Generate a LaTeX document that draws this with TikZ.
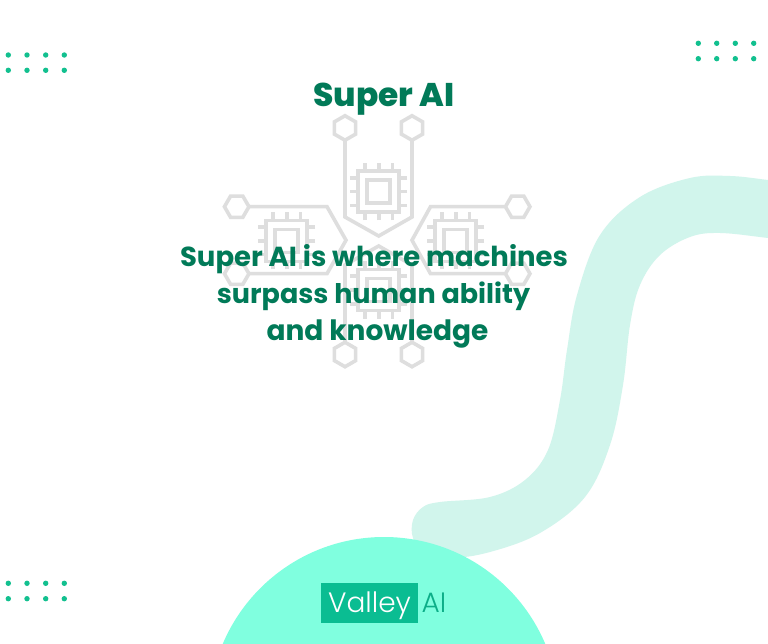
\documentclass[tikz,border=0pt]{standalone}
\usepackage{fontspec}
\usetikzlibrary{shapes.geometric}
\setmainfont{Poppins}
\newfontfamily\titlefont[UprightFont=* ExtraBold]{Poppins}
\newfontfamily\logofont[UprightFont=* Light]{Poppins}
\definecolor{headgreen}{HTML}{017A58}
\definecolor{dotgreen}{HTML}{12C08F}
\definecolor{swoosh}{HTML}{D1F5EC}
\definecolor{mint}{HTML}{80FFDF}
\definecolor{logogreen}{HTML}{0ABD92}
\definecolor{aigreen}{HTML}{0CAE88}
\definecolor{wire}{HTML}{DEDEDE}
\tikzset{
  x=1pt,y=-1pt,
  wireline/.style={draw=wire,line width=3.6pt,line join=miter},
  hexpoint/.style={regular polygon,regular polygon sides=6,shape border rotate=30,draw=wire,line width=3.6pt,minimum size=24.5pt,inner sep=0pt,outer sep=0pt},
  hexflat/.style={regular polygon,regular polygon sides=6,draw=wire,line width=3.6pt,minimum size=24.5pt,inner sep=0pt,outer sep=0pt},
  dotmark/.style={fill=dotgreen},
  headtext/.style={text=headgreen,font=\titlefont\fontsize{32.8}{32.8}\selectfont,anchor=base,inner sep=0pt},
  bodytext/.style={text=headgreen,font=\bfseries\fontsize{27.5}{27.5}\selectfont,anchor=base,inner sep=0pt},
  chip/.pic={
    \draw[wireline] (-20.5,-20.5) rectangle (20.5,20.5);
    \draw[wireline] (-11.5,-11.5) rectangle (11.5,11.5);
    \foreach \d in {-13.7,0,13.7}{
      \draw[wireline] (\d,-28.5) -- (\d,-20.5);
      \draw[wireline] (\d,28.5) -- (\d,20.5);
      \draw[wireline] (-28.5,\d) -- (-20.5,\d);
      \draw[wireline] (28.5,\d) -- (20.5,\d);
    }
  }
}
\begin{document}
\begin{tikzpicture}
\useasboundingbox (0,0) rectangle (768,644);
\clip (0,0) rectangle (768,644);
\fill[white] (0,0) rectangle (768,644);
% swoosh
\fill[swoosh] plot[smooth cycle,tension=0.6] coordinates {
  (440,502) (490,497) (525,480) (548,450) (560,400) (567,350) (577,295) (600,235)
  (640,197) (690,178) (730,176) (768,180) (800,184) (800,242) (768,238) (720,233) (690,237) (660,255)
  (640,285) (630,325) (623,385) (610,445) (585,497) (540,533) (490,552) (450,558) (425,552) (413,538) (413,520) (423,507)};
% circle
\fill[mint] (384,712) circle[radius=175pt];
% dots
\foreach \x in {8.3,27,45.7,64.3}{
  \foreach \y in {55,70.3,583.3,598.7}{\fill[dotmark] (\x,\y) circle[radius=2.7pt];}
}
\foreach \x in {698.3,716.7,735.3,753.7}{
  \foreach \y in {43.3,58.7}{\fill[dotmark] (\x,\y) circle[radius=2.7pt];}
}
% hexagons
\node[hexpoint] (hTL) at (345,128) {};
\node[hexpoint] (hTR) at (412,128) {};
\node[hexpoint] (hBL) at (345,354.5) {};
\node[hexpoint] (hBR) at (412,354.5) {};
\node[hexflat] (hLT) at (236.7,206.7) {};
\node[hexflat] (hLB) at (236.7,273.7) {};
\node[hexflat] (hRT) at (517.7,206.7) {};
\node[hexflat] (hRB) at (517.7,273.7) {};
% bend points
\coordinate (t1) at (345,217); \coordinate (t2) at (378.7,236); \coordinate (t3) at (412,217);
\coordinate (b1) at (345,265); \coordinate (b2) at (378.7,246); \coordinate (b3) at (412,265);
\coordinate (l1) at (327,206.7); \coordinate (l2) at (346,240.2); \coordinate (l3) at (327,273.7);
\coordinate (r1) at (430.5,206.7); \coordinate (r2) at (412,240.2); \coordinate (r3) at (430.5,273.7);
% traces
\draw[wireline] (hTL) -- (t1) -- (t2) -- (t3) -- (hTR);
\draw[wireline] (hBL) -- (b1) -- (b2) -- (b3) -- (hBR);
\draw[wireline] (hLT) -- (l1) -- (l2) -- (l3) -- (hLB);
\draw[wireline] (hRT) -- (r1) -- (r2) -- (r3) -- (hRB);
% chips
\pic at (378.7,191.7) {chip};
\pic at (378.7,290) {chip};
\pic at (286.7,241) {chip};
\pic at (455.7,241) {chip};
% text
\node[headtext] (title) at (384,106.5) {Super AI};
\node[bodytext] (line1) at (374,266) {Super AI is where machines};
\node[bodytext,font=\bfseries\fontsize{27}{27}\selectfont] (line2) at (373.5,303) {surpass human ability};
\node[bodytext,font=\bfseries\fontsize{28}{28}\selectfont] (line3) at (377.5,340) {and knowledge};
% logo
\fill[logogreen] (321,583) rectangle (418,623);
\node[text=white,font=\logofont\fontsize{28}{28}\selectfont,anchor=base,inner sep=0pt] (valley) at (369.5,612.7) {Valley};
\node[text=aigreen,font=\logofont\fontsize{28}{28}\selectfont,anchor=base,inner sep=0pt] (ai) at (434,612.7) {AI};
\end{tikzpicture}
\end{document}
